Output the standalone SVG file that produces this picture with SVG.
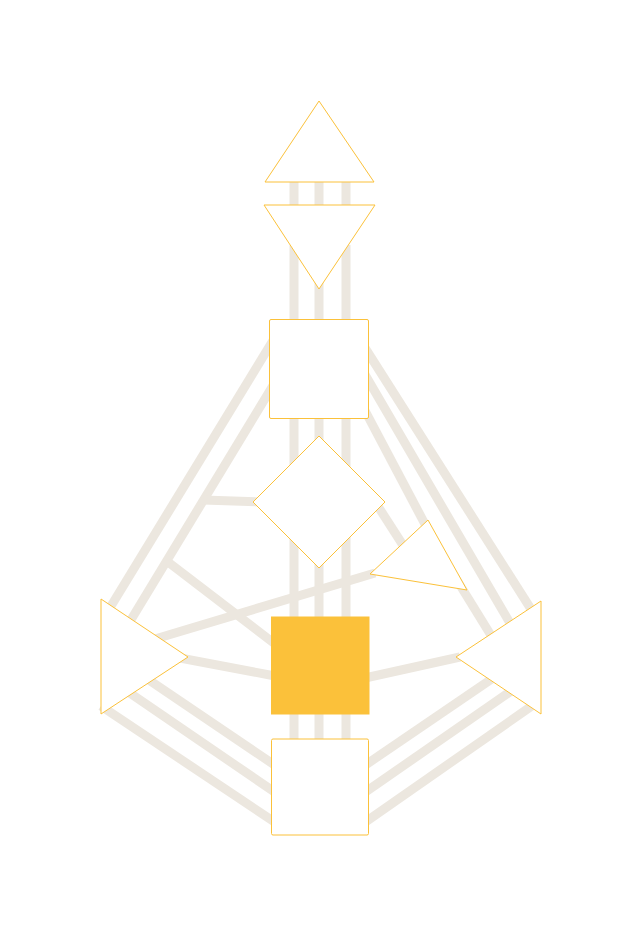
<svg xmlns="http://www.w3.org/2000/svg" width="643" height="938" viewBox="0 0 643 938">
<style>
.ch{stroke:#ECE7DF;stroke-width:9;fill:none;stroke-linecap:butt}
.nd{fill:#FFFFFF;stroke:#FBC13A;stroke-width:1;stroke-linejoin:round}
.on{fill:#FBC13A;stroke:#FBC13A;stroke-width:1}
</style>
<rect width="643" height="938" fill="#FFFFFF"/>
<g id="connectors">
<path class="ch" d="M294 178V212M319 178V212M346 178V212"/>
<path class="ch" d="M294 245V325M319 280V325M346 245V325"/>
<path class="ch" d="M294 414V470M319 414V445M346 414V470"/>
<path class="ch" d="M294 535V622M319 560V622M346 535V622"/>
<path class="ch" d="M294 710V744M319 710V744M346 710V744"/>
<path class="ch" d="M280 329L108 611"/>
<path class="ch" d="M280 374L126 628"/>
<path class="ch" d="M203 500L260 502"/>
<path class="ch" d="M168 562L275 644"/>
<path class="ch" d="M155 639L375 573"/>
<path class="ch" d="M180 658L275 676"/>
<path class="ch" d="M365 678L460 657"/>
<path class="ch" d="M276 766L146 678"/>
<path class="ch" d="M276 793L124 689"/>
<path class="ch" d="M276 823L101 706"/>
<path class="ch" d="M364 766L496 676"/>
<path class="ch" d="M364 793L514 689"/>
<path class="ch" d="M364 823L536 703"/>
<path class="ch" d="M360 340L536 617"/>
<path class="ch" d="M360 366L514 630"/>
<path class="ch" d="M362 405L427 528"/>
<path class="ch" d="M372 497L408 553"/>
<path class="ch" d="M455 577L492 637"/>
</g>
<g id="head"><polygon class="nd" points="319,101 374,182 265,182"/></g>
<g id="ajna"><polygon class="nd" points="264,205 375,205 319,289"/></g>
<g id="throat"><rect class="nd" x="269.5" y="319.5" width="99" height="99" rx="1.5"/></g>
<g id="g-center"><polygon class="nd" points="319,436 385,502 319,568 253,502"/></g>
<g id="heart"><polygon class="nd" points="428,520 467,590 370,574"/></g>
<g id="spleen"><polygon class="nd" points="101,599 188,657 101,714"/></g>
<g id="solar-plexus"><polygon class="nd" points="541,601 541,714 456,657"/></g>
<g id="sacral"><rect class="on" x="271.5" y="617" width="97.5" height="97"/></g>
<g id="root"><rect class="nd" x="271.5" y="739" width="97" height="96" rx="1.5"/></g>
</svg>
